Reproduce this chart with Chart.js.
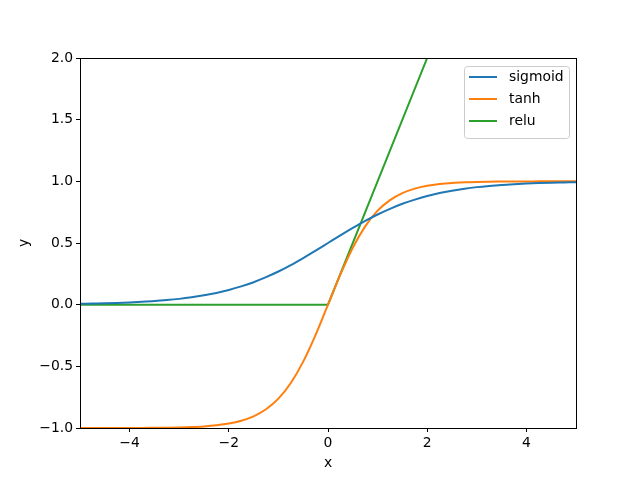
<!DOCTYPE html>
<html>
<head>
<meta charset="utf-8">
<script src="https://cdn.jsdelivr.net/npm/chart.js@4"></script>
<style>
  html, body { margin: 0; padding: 0; background: #fff; }
  #wrap { width: 640px; height: 480px; }
</style>
</head>
<body>
<div id="wrap"><canvas id="act"></canvas></div>
<script>
// sample points along x, step 0.25
const xs = [-5, -4.75, -4.5, -4.25, -4, -3.75, -3.5, -3.25, -3, -2.75, -2.5, -2.25, -2, -1.75, -1.5, -1.25, -1, -0.75, -0.5, -0.25,
  0, 0.25, 0.5, 0.75, 1, 1.25, 1.5, 1.75, 2, 2.25, 2.5, 2.75, 3, 3.25, 3.5, 3.75, 4, 4.25, 4.5, 4.75, 5];

const sigmoidVals = [0.007, 0.009, 0.011, 0.014, 0.018, 0.023, 0.029, 0.037, 0.047, 0.060, 0.076, 0.095, 0.119, 0.148, 0.182, 0.223, 0.269, 0.321, 0.378, 0.438,
  0.500, 0.562, 0.622, 0.679, 0.731, 0.777, 0.818, 0.852, 0.881, 0.905, 0.924, 0.940, 0.953, 0.963, 0.971, 0.977, 0.982, 0.986, 0.989, 0.991, 0.993];

const tanhVals = [-1.000, -1.000, -1.000, -1.000, -0.999, -0.999, -0.998, -0.997, -0.995, -0.992, -0.987, -0.978, -0.964, -0.941, -0.905, -0.848, -0.762, -0.635, -0.462, -0.245,
  0.000, 0.245, 0.462, 0.635, 0.762, 0.848, 0.905, 0.941, 0.964, 0.978, 0.987, 0.992, 0.995, 0.997, 0.998, 0.999, 0.999, 1.000, 1.000, 1.000, 1.000];

const reluX = [-5, 0, 2, 5];
const reluVals = [0, 0, 2, 5];

const xTicks = [-4, -2, 0, 2, 4];
const yTicks = [-1, -0.5, 0, 0.5, 1, 1.5, 2];

const FONT = 'DejaVu Sans';

const pairs = (xv, yv) => xv.map((x, i) => ({ x: x, y: yv[i] }));

// matplotlib style frame + legend
const mplBits = {
  id: 'mplBits',
  afterDraw(chart) {
    const c = chart.ctx, a = chart.chartArea;
    c.save();
    c.strokeStyle = '#000';
    c.lineWidth = 1;
    c.strokeRect(Math.round(a.left) + 0.5, Math.round(a.top) + 0.5, Math.round(a.right - a.left), Math.round(a.bottom - a.top));

    const sets = chart.data.datasets;
    const w = 105, rowH = 22, h = 14 + rowH * sets.length - 8;
    const x0 = a.right - 7 - w, y0 = a.top + 8;
    c.beginPath();
    c.roundRect(x0 + 0.5, y0 + 0.5, w, h, 3);
    c.fillStyle = 'rgba(255,255,255,0.8)';
    c.fill();
    c.strokeStyle = '#cccccc';
    c.stroke();
    c.font = '13.9px "' + FONT + '"';
    c.textBaseline = 'middle';
    sets.forEach((ds, i) => {
      const yy = y0 + 11 + i * rowH;
      c.beginPath();
      c.moveTo(x0 + 5, yy);
      c.lineTo(x0 + 33, yy);
      c.strokeStyle = ds.borderColor;
      c.lineWidth = 2;
      c.stroke();
      c.fillStyle = '#000';
      c.fillText(ds.label, x0 + 45, yy);
    });
    c.restore();
  }
};

new Chart(document.getElementById('act'), {
  type: 'line',
  data: {
    datasets: [
      { label: 'sigmoid', data: pairs(xs, sigmoidVals), borderColor: '#1f77b4', cubicInterpolationMode: 'monotone' },
      { label: 'tanh', data: pairs(xs, tanhVals), borderColor: '#ff7f0e', cubicInterpolationMode: 'monotone' },
      { label: 'relu', data: pairs(reluX, reluVals), borderColor: '#2ca02c', tension: 0 }
    ]
  },
  options: {
    responsive: true,
    maintainAspectRatio: false,
    animation: false,
    devicePixelRatio: 1,
    layout: { padding: { left: 0, right: 64, top: 58, bottom: 0 } },
    elements: {
      point: { radius: 0 },
      line: { borderWidth: 2, fill: false }
    },
    plugins: {
      legend: { display: false },
      tooltip: { enabled: false }
    },
    scales: {
      x: {
        type: 'linear',
        min: -5,
        max: 5,
        afterBuildTicks: s => { s.ticks = xTicks.map(v => ({ value: v })); },
        afterFit: s => { s.height = 52; },
        grid: { drawOnChartArea: false, drawTicks: true, tickLength: 4, color: '#000' },
        border: { display: true, color: '#000' },
        ticks: { color: '#000', padding: 3, maxRotation: 0, font: { family: FONT, size: 13.9 }, callback: v => String(v).replace('-', '\u2212') },
        title: { display: true, text: 'x', color: '#000', padding: { top: 2, bottom: 8 }, font: { family: FONT, size: 13.9 } }
      },
      y: {
        type: 'linear',
        min: -1,
        max: 2,
        afterBuildTicks: s => { s.ticks = yTicks.map(v => ({ value: v })); },
        afterFit: s => { s.width = 80; },
        grid: { drawOnChartArea: false, drawTicks: true, tickLength: 4, color: '#000' },
        border: { display: true, color: '#000' },
        ticks: { color: '#000', padding: 3, font: { family: FONT, size: 13.9 }, callback: v => v.toFixed(1).replace('-', '\u2212') },
        title: { display: true, text: 'y', color: '#000', padding: { top: 16, bottom: 0 }, font: { family: FONT, size: 13.9 } }
      }
    }
  },
  plugins: [mplBits]
});
</script>
</body>
</html>
